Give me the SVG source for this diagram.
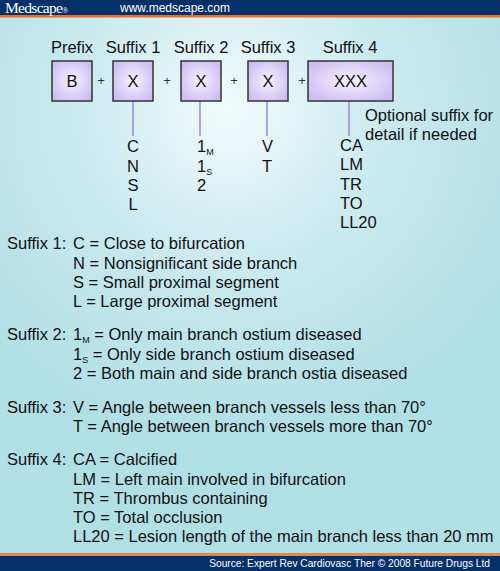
<svg xmlns="http://www.w3.org/2000/svg" width="500" height="571" viewBox="0 0 500 571">
<defs>
<radialGradient id="bg" cx="230" cy="110" r="330" gradientUnits="userSpaceOnUse">
<stop offset="0" stop-color="#f2fbfc"/>
<stop offset="0.5" stop-color="#c8e9ee"/>
<stop offset="1" stop-color="#b1dfe6"/>
</radialGradient>
<radialGradient id="box" cx="0.5" cy="0.5" r="0.6">
<stop offset="0" stop-color="#f6f2fe"/>
<stop offset="1" stop-color="#cdbdf2"/>
</radialGradient>
<style>
.t{font-family:"Liberation Sans",Arial,sans-serif;font-size:16.5px;fill:#111}
.c{text-anchor:middle}
.sub{font-size:9px}
.p{font-family:"Liberation Sans",Arial,sans-serif;font-size:13px;fill:#333;text-anchor:middle}
.bx{fill:url(#box);stroke:#333;stroke-width:1.5}
.ln{stroke:#9b86d6;stroke-width:1.5;fill:none}
.w{fill:#fff}
</style>
</defs>
<rect width="500" height="571" fill="url(#bg)"/>
<rect x="0" y="0" width="500" height="15" fill="#06306a"/>
<rect x="0" y="15" width="500" height="2.5" fill="#e2742a"/>
<rect x="0" y="553" width="500" height="3" fill="#d98a55"/>
<rect x="0" y="556" width="500" height="15" fill="#06306a"/>
<text x="5" y="12.5" font-family="Liberation Serif,serif" font-size="15.5" class="w" letter-spacing="-0.7">Medscape<tspan font-size="8" letter-spacing="0">®</tspan></text>
<text x="120" y="12" font-family="Liberation Sans,Arial,sans-serif" font-size="12" class="w">www.medscape.com</text>
<text x="490" y="567" font-family="Liberation Sans,Arial,sans-serif" font-size="10.2" class="w" text-anchor="end">Source: Expert Rev Cardiovasc Ther © 2008 Future Drugs Ltd</text>

<g id="header-labels">
<text class="t c" x="72" y="53">Prefix</text>
<text class="t c" x="133" y="53">Suffix 1</text>
<text class="t c" x="201" y="53">Suffix 2</text>
<text class="t c" x="268" y="53">Suffix 3</text>
<text class="t c" x="350" y="53">Suffix 4</text>
</g>

<g id="connectors">
<line class="ln" x1="133" y1="101" x2="133" y2="136"/>
<line class="ln" x1="200" y1="101" x2="200" y2="136"/>
<line class="ln" x1="267" y1="101" x2="267" y2="136"/>
<line class="ln" x1="349" y1="101" x2="349" y2="136"/>
</g>

<g id="prefix">
<rect class="bx" x="52" y="61" width="40" height="40"/>
<text class="t c" x="72" y="87">B</text>
</g>
<text class="p" x="101" y="85">+</text>
<g id="suffix1">
<rect class="bx" x="113" y="61" width="40" height="40"/>
<text class="t c" x="133" y="87">X</text>
</g>
<text class="p" x="167" y="85">+</text>
<g id="suffix2">
<rect class="bx" x="181" y="61" width="40" height="40"/>
<text class="t c" x="201" y="87">X</text>
</g>
<text class="p" x="234" y="85">+</text>
<g id="suffix3">
<rect class="bx" x="248" y="61" width="40" height="40"/>
<text class="t c" x="268" y="87">X</text>
</g>
<text class="p" x="302" y="85">+</text>
<g id="suffix4">
<rect class="bx" x="308" y="61" width="85" height="40"/>
<text class="t c" x="350.5" y="87">XXX</text>
</g>

<g id="options">
<text class="t c" x="133" y="152">C</text>
<text class="t c" x="133" y="172">N</text>
<text class="t c" x="133" y="191">S</text>
<text class="t c" x="133" y="210">L</text>
<text class="t" x="197" y="152">1<tspan class="sub" dy="3">M</tspan></text>
<text class="t" x="197" y="172">1<tspan class="sub" dy="3">S</tspan></text>
<text class="t" x="197" y="191">2</text>
<text class="t" x="262" y="152">V</text>
<text class="t" x="262" y="172">T</text>
<text class="t" x="340" y="151">CA</text>
<text class="t" x="340" y="170">LM</text>
<text class="t" x="340" y="190">TR</text>
<text class="t" x="340" y="209">TO</text>
<text class="t" x="340" y="228">LL20</text>
<text class="t" x="365" y="121">Optional suffix for</text>
<text class="t" x="365" y="140">detail if needed</text>
</g>

<g id="legend">
<text class="t" x="7" y="249">Suffix 1:</text>
<text class="t" x="73" y="249">C = Close to bifurcation</text>
<text class="t" x="73" y="269">N = Nonsignificant side branch</text>
<text class="t" x="73" y="288">S = Small proximal segment</text>
<text class="t" x="73" y="307">L = Large proximal segment</text>

<text class="t" x="7" y="340">Suffix 2:</text>
<text class="t" x="73" y="340">1<tspan class="sub" dy="3">M</tspan><tspan dy="-3"> = Only main branch ostium diseased</tspan></text>
<text class="t" x="73" y="360">1<tspan class="sub" dy="3">S</tspan><tspan dy="-3"> = Only side branch ostium diseased</tspan></text>
<text class="t" x="73" y="379">2 = Both main and side branch ostia diseased</text>

<text class="t" x="7" y="413">Suffix 3:</text>
<text class="t" x="73" y="413">V = Angle between branch vessels less than 70°</text>
<text class="t" x="73" y="432">T = Angle between branch vessels more than 70°</text>

<text class="t" x="7" y="465">Suffix 4:</text>
<text class="t" x="73" y="465">CA = Calcified</text>
<text class="t" x="73" y="485">LM = Left main involved in bifurcation</text>
<text class="t" x="73" y="504">TR = Thrombus containing</text>
<text class="t" x="73" y="523">TO = Total occlusion</text>
<text class="t" x="73" y="542">LL20 = Lesion length of the main branch less than 20 mm</text>
</g>
</svg>
